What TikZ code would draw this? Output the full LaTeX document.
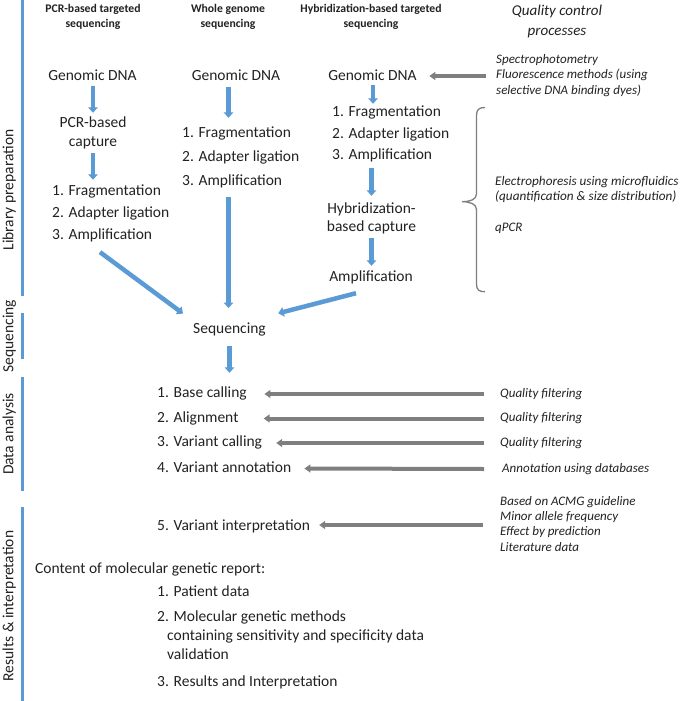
\documentclass[tikz,border=0pt]{standalone}
\usepackage{fontspec}
\setmainfont{Carlito}
\usetikzlibrary{arrows.meta,calc}
\definecolor{bblue}{HTML}{5B9BD5}
\definecolor{ggray}{HTML}{7F7F7F}
\definecolor{txt}{HTML}{222222}
\newcommand\strA{\rule[-3.5pt]{0pt}{14.5pt}}
\newcommand\strB{\rule[-2.8pt]{0pt}{11.8pt}}
\tikzset{
  body/.style={inner sep=0pt, text=txt, font=\fontsize{15.5}{19}\selectfont},
  hdr/.style={inner sep=0pt, text=txt, align=center, font=\fontsize{11.7}{15}\selectfont\bfseries},
  qc/.style={inner sep=0pt, text=txt, anchor=west, align=left, font=\fontsize{13}{15.4}\selectfont\itshape},
  barrow/.style={draw=bblue, line width=4.5pt, -{Triangle[width=9.5pt,length=5.5pt]}},
  garrow/.style={draw=ggray, line width=4pt, -{Triangle[width=8pt,length=6pt]}},
  secbar/.style={draw=bblue, line width=3pt},
  brace/.style={draw=ggray, line width=1.3pt}
}
\begin{document}
\begin{tikzpicture}[x=1pt,y=-1pt]
\useasboundingbox[fill=white] (0,0) rectangle (685,701);

% section bars
\draw[secbar] (22,0) -- (22,296);
\draw[secbar] (22,313) -- (22,359);
\draw[secbar] (22,377) -- (22,491);
\draw[secbar] (22,507) -- (22,701);

% section labels
\node[body, rotate=90] (lab1) at (9.5,190) {\strA Library preparation};
\node[body, rotate=90] (lab2) at (9.5,336) {\strA Sequencing};
\node[body, rotate=90] (lab3) at (9.5,434) {\strA Data analysis};
\node[body, rotate=90] (lab4) at (9.5,606) {\strA Results \& interpretation};

% headers
\node[hdr] (hdr1) at (93,16.5) {\strB PCR-based targeted\\\strB sequencing};
\node[hdr] (hdr2) at (228,16.5) {\strB Whole genome\\\strB sequencing};
\node[hdr] (hdr3) at (371,16.5) {\strB Hybridization-based targeted\\\strB sequencing};
\node[inner sep=0pt, text=txt, align=center, font=\fontsize{15}{20}\selectfont\itshape] (qch) at (557,22) {\strA Quality control\\\strA processes};

% column 1
\node[body] (gd1) at (92.5,77) {\strA Genomic DNA};
\node[body, align=center] (pcr1) at (93,133.5) {\strA PCR-based\\\strA capture};
\node[body, anchor=west, align=left, font=\fontsize{15.5}{22}\selectfont] (list1) at (52,213.7) {\strA 1. Fragmentation\\\strA 2. Adapter ligation\\\strA 3. Amplification};

% column 2
\node[body] (gd2) at (236,77) {\strA Genomic DNA};
\node[body, anchor=west, align=left, font=\fontsize{15.5}{24.25}\selectfont] (list2) at (182,157.5) {\strA 1. Fragmentation\\\strA 2. Adapter ligation\\\strA 3. Amplification};

% column 3
\node[body] (gd3) at (372.5,77) {\strA Genomic DNA};
\node[body, anchor=west, align=left, font=\fontsize{15.5}{21.5}\selectfont] (list3) at (332,134.5) {\strA 1. Fragmentation\\\strA 2. Adapter ligation\\\strA 3. Amplification};
\node[body, align=center, font=\fontsize{15.5}{18}\selectfont] (hyb) at (371.5,219) {\strA Hybridization-\\\strA based capture};
\node[body] (amp) at (371,278) {\strA Amplification};

% sequencing
\node[body] (seq) at (229.5,330) {\strA Sequencing};

% data analysis
\node[body, anchor=west] (dl1) at (157,394) {\strA 1. Base calling};
\node[body, anchor=west] (dl2) at (157,418.5) {\strA 2. Alignment};
\node[body, anchor=west] (dl3) at (157,443) {\strA 3. Variant calling};
\node[body, anchor=west] (dl4) at (157,468.5) {\strA 4. Variant annotation};

% results
\node[body, anchor=west] (vi) at (157,527) {\strA 5. Variant interpretation};
\node[body, anchor=west] (cont) at (35,570) {\strA Content of molecular genetic report:};
\node[body, anchor=west] (r1) at (157,593) {\strA 1. Patient data};
\node[body, anchor=west, align=left, font=\fontsize{15.5}{19}\selectfont] (r2) at (157,637) {\strA 2. Molecular genetic methods\\\hspace*{10pt}\strA containing sensitivity and specificity data\\\hspace*{10pt}\strA validation};
\node[body, anchor=west] (r3) at (157,683) {\strA 3. Results and Interpretation};

% quality control texts
\node[qc, font=\fontsize{13}{15.5}\selectfont\itshape] (qc1) at (496,75.7) {\strB Spectrophotometry\\\strB Fluorescence methods (using\\\strB selective DNA binding dyes)};
\node[qc, font=\fontsize{13.2}{15}\selectfont\itshape] (el) at (495,189.5) {\strB Electrophoresis using microfluidics\\\strB (quantification \& size distribution)};
\node[qc] (qpcr) at (495,228) {\strB qPCR};
\node[qc] (qf1) at (500,394) {\strB Quality filtering};
\node[qc] (qf2) at (500,418.5) {\strB Quality filtering};
\node[qc] (qf3) at (500,443) {\strB Quality filtering};
\node[qc] (ann) at (502,469) {\strB Annotation using databases};
\node[qc, font=\fontsize{13}{15.33}\selectfont\itshape] (acmg) at (500,525) {\strB Based on ACMG guideline\\\strB Minor allele frequency\\\strB Effect by prediction\\\strB Literature data};

% brace
\draw[brace] (485,107.5) .. controls (479,107.5) and (476.5,109.5) .. (476.5,115.5)
  -- (476.5,194) .. controls (476.5,199.5) and (470,201.7) .. (462,201.7)
  .. controls (470,201.7) and (476.5,204) .. (476.5,209.5)
  -- (476.5,284) .. controls (476.5,290) and (479,291.7) .. (485,291.7);

% blue arrows
\draw[barrow] ($(gd1.south)+(0.5,1.75)$) -- ($(pcr1.north)+(0,-3.75)$);
\draw[barrow] ($(pcr1.south)+(0,2.75)$) -- ($(pcr1.south |- list1.north)+(0,-4.5)$);
\draw[barrow] ($(list1.south west)+(48,9)$) -- ($(seq.north west)+(-10,-9)$);
\draw[barrow] ($(gd2.south -| hdr2.south)+(0.5,2.75)$) -- ($(list2.north -| hdr2.south)+(0.5,-8)$);
\draw[barrow] ($(list2.south -| hdr2.south)+(0.5,8)$) -- ($(seq.north -| hdr2.south)+(0.5,-14.5)$);
\draw[barrow] ($(gd3.south)+(0.5,0.75)$) -- ($(gd3.south |- list3.north)+(0.5,-1.75)$);
\draw[barrow] ($(hyb.north |- list3.south)+(0,4.75)$) -- ($(hyb.north)+(0,-6.75)$);
\draw[barrow] ($(hyb.south)+(0,2.75)$) -- ($(hyb.south |- amp.north)+(0,-4.75)$);
\draw[barrow] ($(amp.south)+(-15,7.75)$) -- ($(seq.north east)+(12.25,-9.25)$);
\draw[barrow] ($(seq.south)+(0,8.75)$) -- ($(seq.south |- dl1.north)+(0,-13.75)$);

% gray arrows
\draw[garrow] ($(qc1.west)+(-10,0.3)$) -- ($(gd3.east)+(12.5,-1)$);
\draw[garrow] ($(qf1.west)+(-16,0)$) -- ($(dl1.east)+(17.5,0)$);
\draw[garrow] ($(qf2.west)+(-16,0)$) -- ($(dl2.east)+(25,0)$);
\draw[garrow] ($(qf3.west)+(-16,0)$) -- ($(dl3.east)+(14,0)$);
\draw[garrow] ($(ann.west)+(-18,0)$) -- ($(dl4.east)+(13,0)$);
\draw[garrow] ($(acmg.west)+(-17,0)$) -- ($(vi.east)+(9,-2)$);
\end{tikzpicture}
\end{document}
